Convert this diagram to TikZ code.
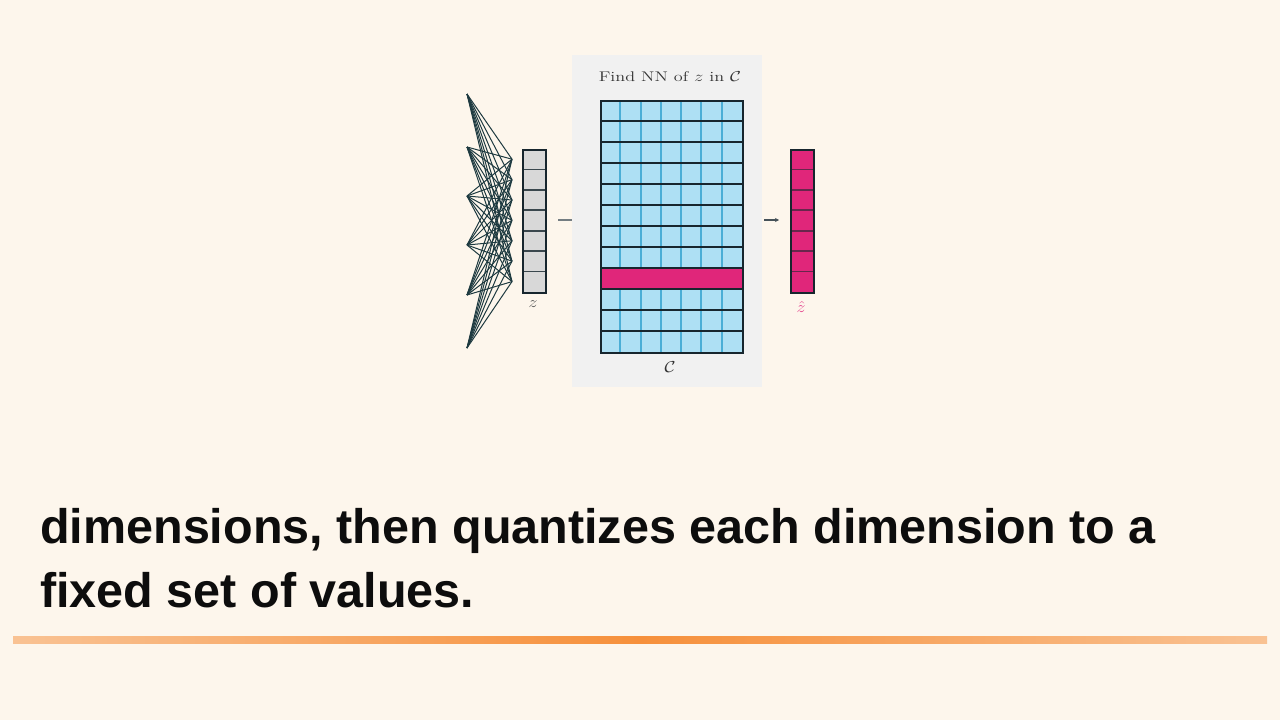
\documentclass[tikz,border=0pt]{standalone}
\usepackage{fontspec}
\newfontfamily\capfont{Liberation Sans}[UprightFont=*-Bold]
\usetikzlibrary{arrows.meta}
\definecolor{bgcream}{HTML}{FDF6EC}
\definecolor{panelgrey}{HTML}{F1F1F1}
\definecolor{cellblue}{HTML}{AEE0F4}
\definecolor{lineblue}{HTML}{4AAED6}
\definecolor{darkline}{HTML}{17262E}
\definecolor{netline}{HTML}{1E3A40}
\definecolor{zgrey}{HTML}{D8D8D8}
\definecolor{hotpink}{HTML}{E0267A}
\definecolor{orangeA}{HTML}{F9C293}
\definecolor{orangeB}{HTML}{F6903B}
\tikzset{
  vecbox/.style={draw=darkline, line width=2pt},
  netedge/.style={draw=netline, line width=1pt},
  captxt/.style={anchor=base west, inner sep=0pt, font=\capfont\fontsize{48.5}{52}\selectfont, text=black!95},
  lbl/.style={inner sep=0pt, font=\fontsize{14}{16}\selectfont},
}
\begin{document}
\begin{tikzpicture}[x=1pt,y=-1pt]
\fill[bgcream] (0,0) rectangle (1280,720);
\useasboundingbox (0,0) rectangle (1280,720);
% panel
\node[fill=panelgrey, minimum width=190pt, minimum height=332pt, inner sep=0pt, anchor=north west] (panel) at (572,55) {};
\node[lbl, text=black!80] (title) at (670,77) {\scalebox{1.3}[1]{Find NN of $z$ in $\mathcal{C}$}};
% codebook
\fill[cellblue] (600,100) rectangle (742,352);
\foreach \k in {1,...,6} {\draw[lineblue, line width=2pt] ({600+\k*142/7},100) -- ({600+\k*142/7},352);}
\fill[hotpink] (600,268) rectangle (742,289);
\foreach \k in {1,...,11} {\draw[darkline, line width=2.5pt] (600,{100+\k*21}) -- (742,{100+\k*21});}
\node[draw=darkline, line width=2.2pt, minimum width=142pt, minimum height=252pt, inner sep=0pt, anchor=north west] (cb) at (600,100) {};
\node[lbl, text=black!80] (clbl) at (670,367) {\scalebox{1.3}[1.1]{$\mathcal{C}$}};
% z vector
\fill[zgrey] (522,149) rectangle (545,292);
\foreach \k in {1,...,6} {\draw[darkline!85, line width=1.6pt] (522,{149+\k*143/7}) -- (545,{149+\k*143/7});}
\node[vecbox, minimum width=23pt, minimum height=143pt, inner sep=0pt, anchor=north west] (zvec) at (522,149) {};
\node[lbl, text=black!65] (zlbl) at (533,304) {\scalebox{1.3}[1.1]{$z$}};
% zhat vector
\fill[hotpink] (790,149) rectangle (813,292);
\foreach \k in {1,...,6} {\draw[darkline!60!hotpink, line width=1.6pt] (790,{149+\k*143/7}) -- (813,{149+\k*143/7});}
\node[vecbox, minimum width=23pt, minimum height=143pt, inner sep=0pt, anchor=north west] (zhat) at (790,149) {};
\node[lbl, text=hotpink!85] (zhlbl) at (801,307) {\scalebox{1.3}[1.1]{$\hat{z}$}};
% arrows
\coordinate (la) at (558,220);
\draw[darkline!60, line width=1.3pt] (la) -- (panel.west |- la);
\coordinate (ra) at (764,220);
\coordinate (rb) at (779,220);
\draw[darkline!80, line width=1.3pt, -{Stealth[length=4pt,width=4pt]}] (ra) -- (rb);
% network
\foreach \i/\y in {1/94,2/147,3/196,4/245,5/295,6/348} {\coordinate (n\i) at (467,\y);}
\foreach \j in {1,...,7} {\coordinate (m\j) at (512,{159.2+(\j-1)*20.4});}
\foreach \i in {1,...,6} {\foreach \j in {1,...,7} {\draw[netedge] (n\i) -- (m\j);}}
% caption
\node[captxt] (cap1) at (40,543) {dimensions, then quantizes each dimension to a};
\node[captxt] (cap2) at (40,607) {fixed set of values.};
% orange bar
\shade[left color=orangeA, right color=orangeA, middle color=orangeB] (13,636) rectangle (1267,643);
\end{tikzpicture}
\end{document}
